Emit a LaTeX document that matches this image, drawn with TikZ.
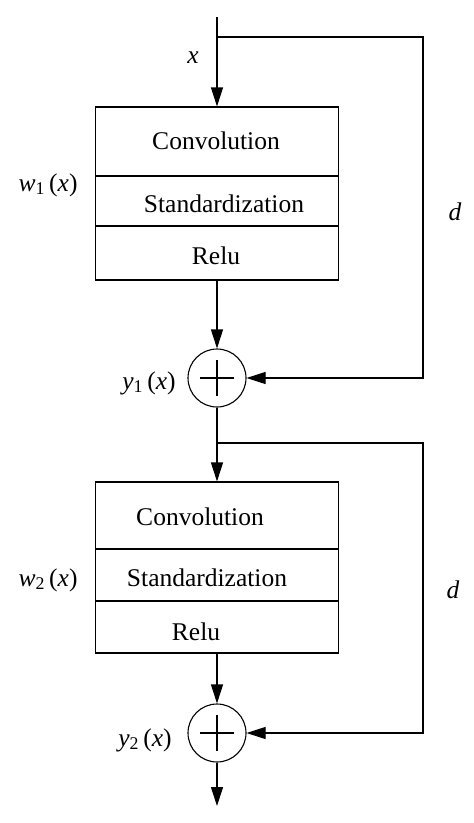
\documentclass[tikz,border=0pt]{standalone}
\usepackage{fontspec}
\setmainfont{Liberation Serif}
\usepackage{tikz}
\usetikzlibrary{arrows.meta}

\begin{document}
\begin{tikzpicture}[
                x=1pt, y=-1pt,
                line width=1.1pt,
                every node/.style={font=\fontsize{25.5}{30}\selectfont},
                block/.style={draw, rectangle, minimum width=243pt, inner sep=0pt},
                adder/.style={draw, circle, minimum size=58pt, inner sep=0pt},
                ->, >={Triangle[length=19pt,width=12pt]}
            ]
            \useasboundingbox (0,0) rectangle (474,823);

            % Nodes
            \coordinate (in) at (217,17);
            \coordinate (split1) at (217,37);
            \node[block, minimum height=173pt] (block1) at (217,193.5) {};
            \node[adder] (sum1) at (217,378) {};
            \coordinate (split2) at (217,443);
            \node[block, minimum height=171pt] (block2) at (217,567.5) {};
            \node[adder] (sum2) at (217,733) {};
            \coordinate (out) at (217,806);

            % Layers inside the blocks
            \draw[-] (95.5,176) -- (338.5,176);
            \draw[-] (95.5,226) -- (338.5,226);
            \node (conv1) at (216,141) {Convolution};
            \node (std1) at (224,204) {Standardization};
            \node (relu1) at (216,256) {Relu};

            \draw[-] (95.5,549) -- (338.5,549);
            \draw[-] (95.5,601) -- (338.5,601);
            \node (conv2) at (200,517) {Convolution};
            \node (std2) at (207,578) {Standardization};
            \node (relu2) at (196,632) {Relu};

            % Plus signs
            \foreach \s in {sum1, sum2} {
                \draw[-] ([xshift=-17pt]\s.center) -- ([xshift=17pt]\s.center);
                \draw[-] ([yshift=18pt]\s.center) -- ([yshift=-18pt]\s.center);
            }

            % Labels
            \node (lx) at (193,58) {\textit{x}};
            \node (lw1) at (48,185) {\textit{w}\textsubscript{1}\,(\textit{x})};
            \node (ly1) at (149,383) {\textit{y}\textsubscript{1}\,(\textit{x})};
            \node (ld1) at (455,212) {\textit{d}};
            \node (lw2) at (48,580) {\textit{w}\textsubscript{2}\,(\textit{x})};
            \node (ly2) at (145,740) {\textit{y}\textsubscript{2}\,(\textit{x})};
            \node (ld2) at (453,590) {\textit{d}};

            % Edges
            \draw [->] (in) -- (block1);
            \draw [->] (block1) -- (sum1);
            \draw [->] (split1) -- (423,37) -- (423,378) -- (sum1);
            \draw [->] (sum1) -- (block2);
            \draw [->] (split2) -- (423,443) -- (423,733) -- (sum2);
            \draw [->] (block2) -- (sum2);
            \draw [->] (sum2) -- (out);

            \end{tikzpicture}
\end{document}
